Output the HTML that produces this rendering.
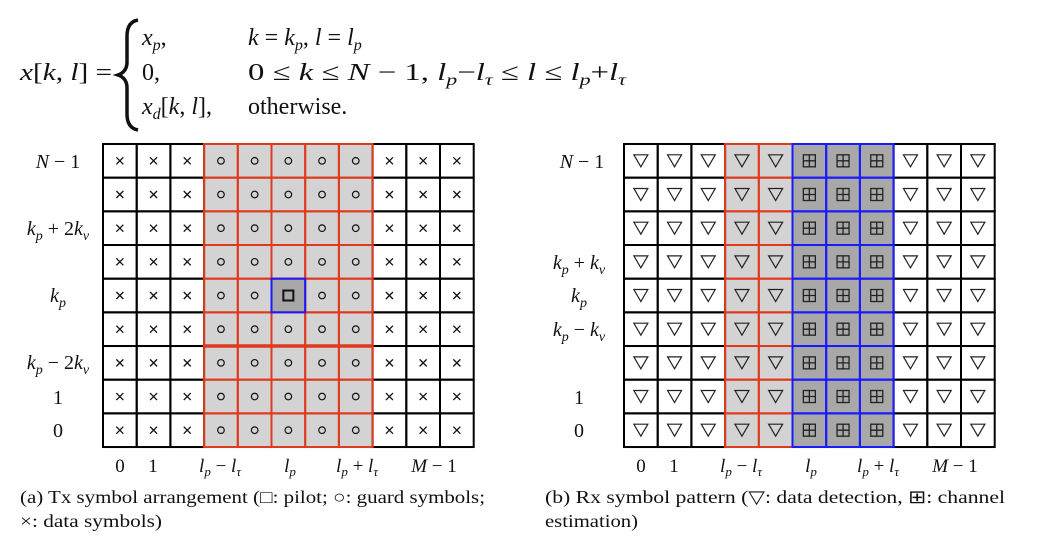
<!DOCTYPE html>
<html><head><meta charset="utf-8"><style>
html,body{margin:0;padding:0;background:#fff;width:1044px;height:552px;overflow:hidden}
svg{display:block}
text{font-family:"Liberation Serif",serif;fill:#111}
.i{font-style:italic}
</style></head><body>
<svg id="s" width="1044" height="552" viewBox="0 0 1044 552" xmlns="http://www.w3.org/2000/svg">
<text x="20" y="80" font-size="24" textLength="92" lengthAdjust="spacingAndGlyphs"><tspan class="i">x</tspan>[<tspan class="i">k</tspan>, <tspan class="i">l</tspan>] =</text>
<path d="M138 20 Q127 22 127 36 L127 62 Q127 72 118 75 Q127 78 127 88 L127 114 Q127 128 138 130" fill="none" stroke="#111" stroke-width="3.5"/>
<text x="142" y="45" font-size="24"><tspan class="i">x</tspan><tspan class="i" font-size="16" dy="5">p</tspan><tspan dy="-5">,</tspan></text>
<text x="142" y="80" font-size="24">0,</text>
<text x="142" y="114" font-size="24"><tspan class="i">x</tspan><tspan class="i" font-size="16" dy="5">d</tspan><tspan dy="-5">[</tspan><tspan class="i">k</tspan>, <tspan class="i">l</tspan>],</text>
<text x="248" y="45" font-size="24"><tspan class="i">k</tspan> = <tspan class="i">k</tspan><tspan class="i" font-size="16" dy="5">p</tspan><tspan dy="-5">, </tspan><tspan class="i">l</tspan> = <tspan class="i">l</tspan><tspan class="i" font-size="16" dy="5">p</tspan></text>
<text x="248" y="80" font-size="24" textLength="378" lengthAdjust="spacingAndGlyphs">0 ≤ <tspan class="i">k</tspan> ≤ <tspan class="i">N</tspan> − 1, <tspan class="i">l</tspan><tspan class="i" font-size="16" dy="5">p</tspan><tspan dy="-5">−</tspan><tspan class="i">l</tspan><tspan class="i" font-size="16" dy="5">τ</tspan><tspan dy="-5"> ≤ </tspan><tspan class="i">l</tspan> ≤ <tspan class="i">l</tspan><tspan class="i" font-size="16" dy="5">p</tspan><tspan dy="-5">+</tspan><tspan class="i">l</tspan><tspan class="i" font-size="16" dy="5">τ</tspan></text>
<text x="248" y="114" font-size="24">otherwise.</text>
<g id="g"></g>
<g font-size="20" text-anchor="middle">
<text x="58" y="168"><tspan class="i">N</tspan> − 1</text>
<text x="58" y="235"><tspan class="i">k</tspan><tspan class="i" font-size="14" dy="5">p</tspan><tspan dy="-5"> + 2</tspan><tspan class="i">k</tspan><tspan class="i" font-size="14" dy="5">ν</tspan></text>
<text x="58" y="302"><tspan class="i">k</tspan><tspan class="i" font-size="14" dy="5">p</tspan></text>
<text x="58" y="369"><tspan class="i">k</tspan><tspan class="i" font-size="14" dy="5">p</tspan><tspan dy="-5"> − 2</tspan><tspan class="i">k</tspan><tspan class="i" font-size="14" dy="5">ν</tspan></text>
<text x="58" y="404">1</text>
<text x="58" y="437">0</text>
<text x="582" y="168"><tspan class="i">N</tspan> − 1</text>
<text x="579" y="269"><tspan class="i">k</tspan><tspan class="i" font-size="14" dy="5">p</tspan><tspan dy="-5"> + </tspan><tspan class="i">k</tspan><tspan class="i" font-size="14" dy="5">ν</tspan></text>
<text x="579" y="302"><tspan class="i">k</tspan><tspan class="i" font-size="14" dy="5">p</tspan></text>
<text x="579" y="336"><tspan class="i">k</tspan><tspan class="i" font-size="14" dy="5">p</tspan><tspan dy="-5"> − </tspan><tspan class="i">k</tspan><tspan class="i" font-size="14" dy="5">ν</tspan></text>
<text x="579" y="404">1</text>
<text x="579" y="437">0</text>
</g>
<g font-size="19" text-anchor="middle">
<text x="120" y="472">0</text><text x="153" y="472">1</text>
<text x="220" y="472"><tspan class="i">l</tspan><tspan class="i" font-size="13" dy="4">p</tspan><tspan dy="-4"> − </tspan><tspan class="i">l</tspan><tspan class="i" font-size="13" dy="4">τ</tspan></text>
<text x="290" y="472"><tspan class="i">l</tspan><tspan class="i" font-size="13" dy="4">p</tspan></text>
<text x="357" y="472"><tspan class="i">l</tspan><tspan class="i" font-size="13" dy="4">p</tspan><tspan dy="-4"> + </tspan><tspan class="i">l</tspan><tspan class="i" font-size="13" dy="4">τ</tspan></text>
<text x="434" y="472"><tspan class="i">M</tspan> − 1</text>
<text x="641" y="472">0</text><text x="674" y="472">1</text>
<text x="741" y="472"><tspan class="i">l</tspan><tspan class="i" font-size="13" dy="4">p</tspan><tspan dy="-4"> − </tspan><tspan class="i">l</tspan><tspan class="i" font-size="13" dy="4">τ</tspan></text>
<text x="811" y="472"><tspan class="i">l</tspan><tspan class="i" font-size="13" dy="4">p</tspan></text>
<text x="878" y="472"><tspan class="i">l</tspan><tspan class="i" font-size="13" dy="4">p</tspan><tspan dy="-4"> + </tspan><tspan class="i">l</tspan><tspan class="i" font-size="13" dy="4">τ</tspan></text>
<text x="955" y="472"><tspan class="i">M</tspan> − 1</text>
</g>
<g font-size="18">
<text x="20" y="503" textLength="465" lengthAdjust="spacingAndGlyphs">(a) Tx symbol arrangement (□: pilot; ○: guard symbols;</text>
<text x="20" y="527" textLength="142" lengthAdjust="spacingAndGlyphs">×: data symbols)</text>
<text x="545" y="503" textLength="460" lengthAdjust="spacingAndGlyphs">(b) Rx symbol pattern (▽: data detection, ⊞: channel</text>
<text x="545" y="527" textLength="93" lengthAdjust="spacingAndGlyphs">estimation)</text>
</g>
</svg>
<script>
const NS="http://www.w3.org/2000/svg",g=document.getElementById('g');
function el(t,a){const e=document.createElementNS(NS,t);for(const k in a)e.setAttribute(k,a[k]);g.appendChild(e);return e;}
const cw=33.7,ch=33.67,y0=144;
let x0=103;
for(let r=0;r<9;r++)for(let c=0;c<11;c++){
 const x=x0+c*cw,y=y0+r*ch,cx=x+cw/2,cy=y+ch/2;
 const guard=c>=3&&c<=7, pilot=(r==4&&c==5);
 el('rect',{x,y,width:cw,height:ch,fill:pilot?'#a8a8a8':guard?'#d3d3d3':'#fff'});
 if(pilot) el('rect',{x:cx-5,y:cy-5,width:10,height:10,fill:'none',stroke:'#111','stroke-width':2});
 else if(guard) el('circle',{cx,cy,r:3.3,fill:'none',stroke:'#111','stroke-width':1.2});
 else {el('path',{d:`M${cx-3.5} ${cy-3.5}L${cx+3.5} ${cy+3.5}M${cx+3.5} ${cy-3.5}L${cx-3.5} ${cy+3.5}`,stroke:'#111','stroke-width':1.3});}
}
for(let r=0;r<9;r++)for(let c=0;c<11;c++){
 if(c>=3&&c<=7) continue;
 el('rect',{x:x0+c*cw,y:y0+r*ch,width:cw,height:ch,fill:'none',stroke:'#000','stroke-width':2});
}
for(let r=0;r<9;r++)for(let c=3;c<=7;c++)
 el('rect',{x:x0+c*cw,y:y0+r*ch,width:cw,height:ch,fill:'none',stroke:'#e03a1e','stroke-width':2});
el('line',{x1:x0+3*cw,x2:x0+8*cw,y1:y0+6*ch,y2:y0+6*ch,stroke:'#e03a1e','stroke-width':3.5});
el('rect',{x:x0+5*cw,y:y0+4*ch,width:cw,height:ch,fill:'none',stroke:'#1a1aff','stroke-width':2});
x0=624;
for(let r=0;r<9;r++)for(let c=0;c<11;c++){
 const x=x0+c*cw,y=y0+r*ch,cx=x+cw/2,cy=y+ch/2;
 const red=c==3||c==4, blue=c>=5&&c<=7;
 el('rect',{x,y,width:cw,height:ch,fill:blue?'#a8a8a8':red?'#d3d3d3':'#fff'});
 if(blue){el('rect',{x:cx-6,y:cy-6,width:12,height:12,fill:'none',stroke:'#222','stroke-width':1.3});
  el('path',{d:`M${cx} ${cy-6}V${cy+6}M${cx-6} ${cy}H${cx+6}`,stroke:'#222','stroke-width':1.3});}
 else el('path',{d:`M${cx-7} ${cy-6}H${cx+7}L${cx} ${cy+6}Z`,fill:'none',stroke:'#222','stroke-width':1.2});
}
for(let r=0;r<9;r++)for(let c=0;c<11;c++){ if(c>=3&&c<=7)continue;
 el('rect',{x:x0+c*cw,y:y0+r*ch,width:cw,height:ch,fill:'none',stroke:'#000','stroke-width':2});}
for(let r=0;r<9;r++)for(let c=3;c<=4;c++)
 el('rect',{x:x0+c*cw,y:y0+r*ch,width:cw,height:ch,fill:'none',stroke:'#e03a1e','stroke-width':2});
for(let r=0;r<9;r++)for(let c=5;c<=7;c++)
 el('rect',{x:x0+c*cw,y:y0+r*ch,width:cw,height:ch,fill:'none',stroke:'#1a1aff','stroke-width':2});
</script>
</body></html>
